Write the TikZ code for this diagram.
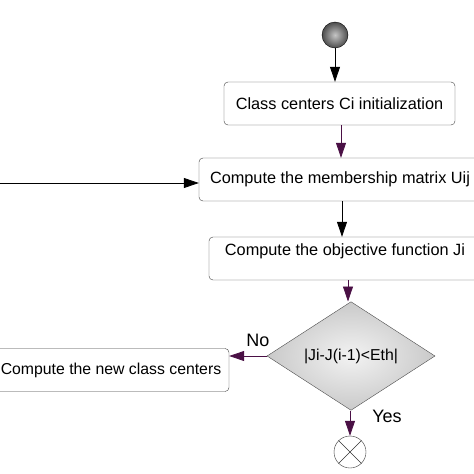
\documentclass[tikz,border=0pt]{standalone}
\usepackage{fontspec}
\setmainfont{Liberation Sans}
\usetikzlibrary{arrows.meta,shapes.geometric}

\definecolor{darkplum}{RGB}{74,16,69}
\tikzset{
    actbox/.style={draw=black!75, rounded corners=4pt, fill=white, minimum height=43pt,
        font=\fontsize{16.3}{17}\selectfont, inner sep=0pt},
    flow/.style={-{Triangle[length=15pt,width=10pt]}, line width=0.8pt},
    flowp/.style={flow, darkplum},
}

\begin{document}
\begin{tikzpicture}[x=1pt, y=-1pt]
            \useasboundingbox (0,0) rectangle (474,474);
            \clip (0,0) rectangle (474,474);
            % ==== START / END ====
            \node[circle, draw=black, minimum size=26pt, inner sep=0pt,
                inner color=gray!45, outer color=black!70] (start) at (335,35) {};
            \node[circle, draw=black!80, minimum size=32pt, inner sep=0pt] (stop) at (350,452) {};
            \draw[black!80] (stop.45) -- (stop.225) (stop.135) -- (stop.315);
            % ==== ACTIVITIES ====
            \node[actbox, minimum width=231pt] (init) at (339.5,103.5) {Class centers Ci initialization};
            \node[actbox, minimum width=282pt] (member) at (340,179.5) {Compute the membership matrix Uij};
            \node[actbox, minimum width=272pt, align=center] (objective) at (345,258.5)
                {Compute the objective function Ji\\[1pt] ~};
            \node[actbox, minimum width=236pt, font=\fontsize{15.8}{17}\selectfont] (newcent) at (111,370)
                {Compute the new class centers};
            % ==== DECISION ====
            \node[diamond, draw=black!70, minimum width=168pt, minimum height=84pt, inner sep=0pt,
                inner color=gray!10, outer color=gray!42, font=\fontsize{15.8}{17}\selectfont]
                (test) at (351,356) {|Ji-J(i-1)<Eth|};
            % ==== ARROWS ====
            \coordinate (back) at (0,183);
            \draw[flow] (start.south) -- (start.south |- init.north);
            \draw[flowp] (init.south -| 341,0) -- (member.north -| 341,0);
            \draw[flow] (member.south -| 342,0) -- (objective.north -| 342,0);
            \draw[flowp] (objective.south -| 348,0) -- (test.north -| 348,0);
            \draw[flow] (back) -- (back -| member.west);
            \draw[flowp] (test.west) -- (newcent.east |- test.west);
            \draw[flowp] (test.south -| 350,0) -- (stop.north);
            \node[font=\fontsize{18}{19}\selectfont] (no) at (258,340) {No};
            \node[font=\fontsize{18}{19}\selectfont] (yes) at (387,416) {Yes};
         \end{tikzpicture}
\end{document}
